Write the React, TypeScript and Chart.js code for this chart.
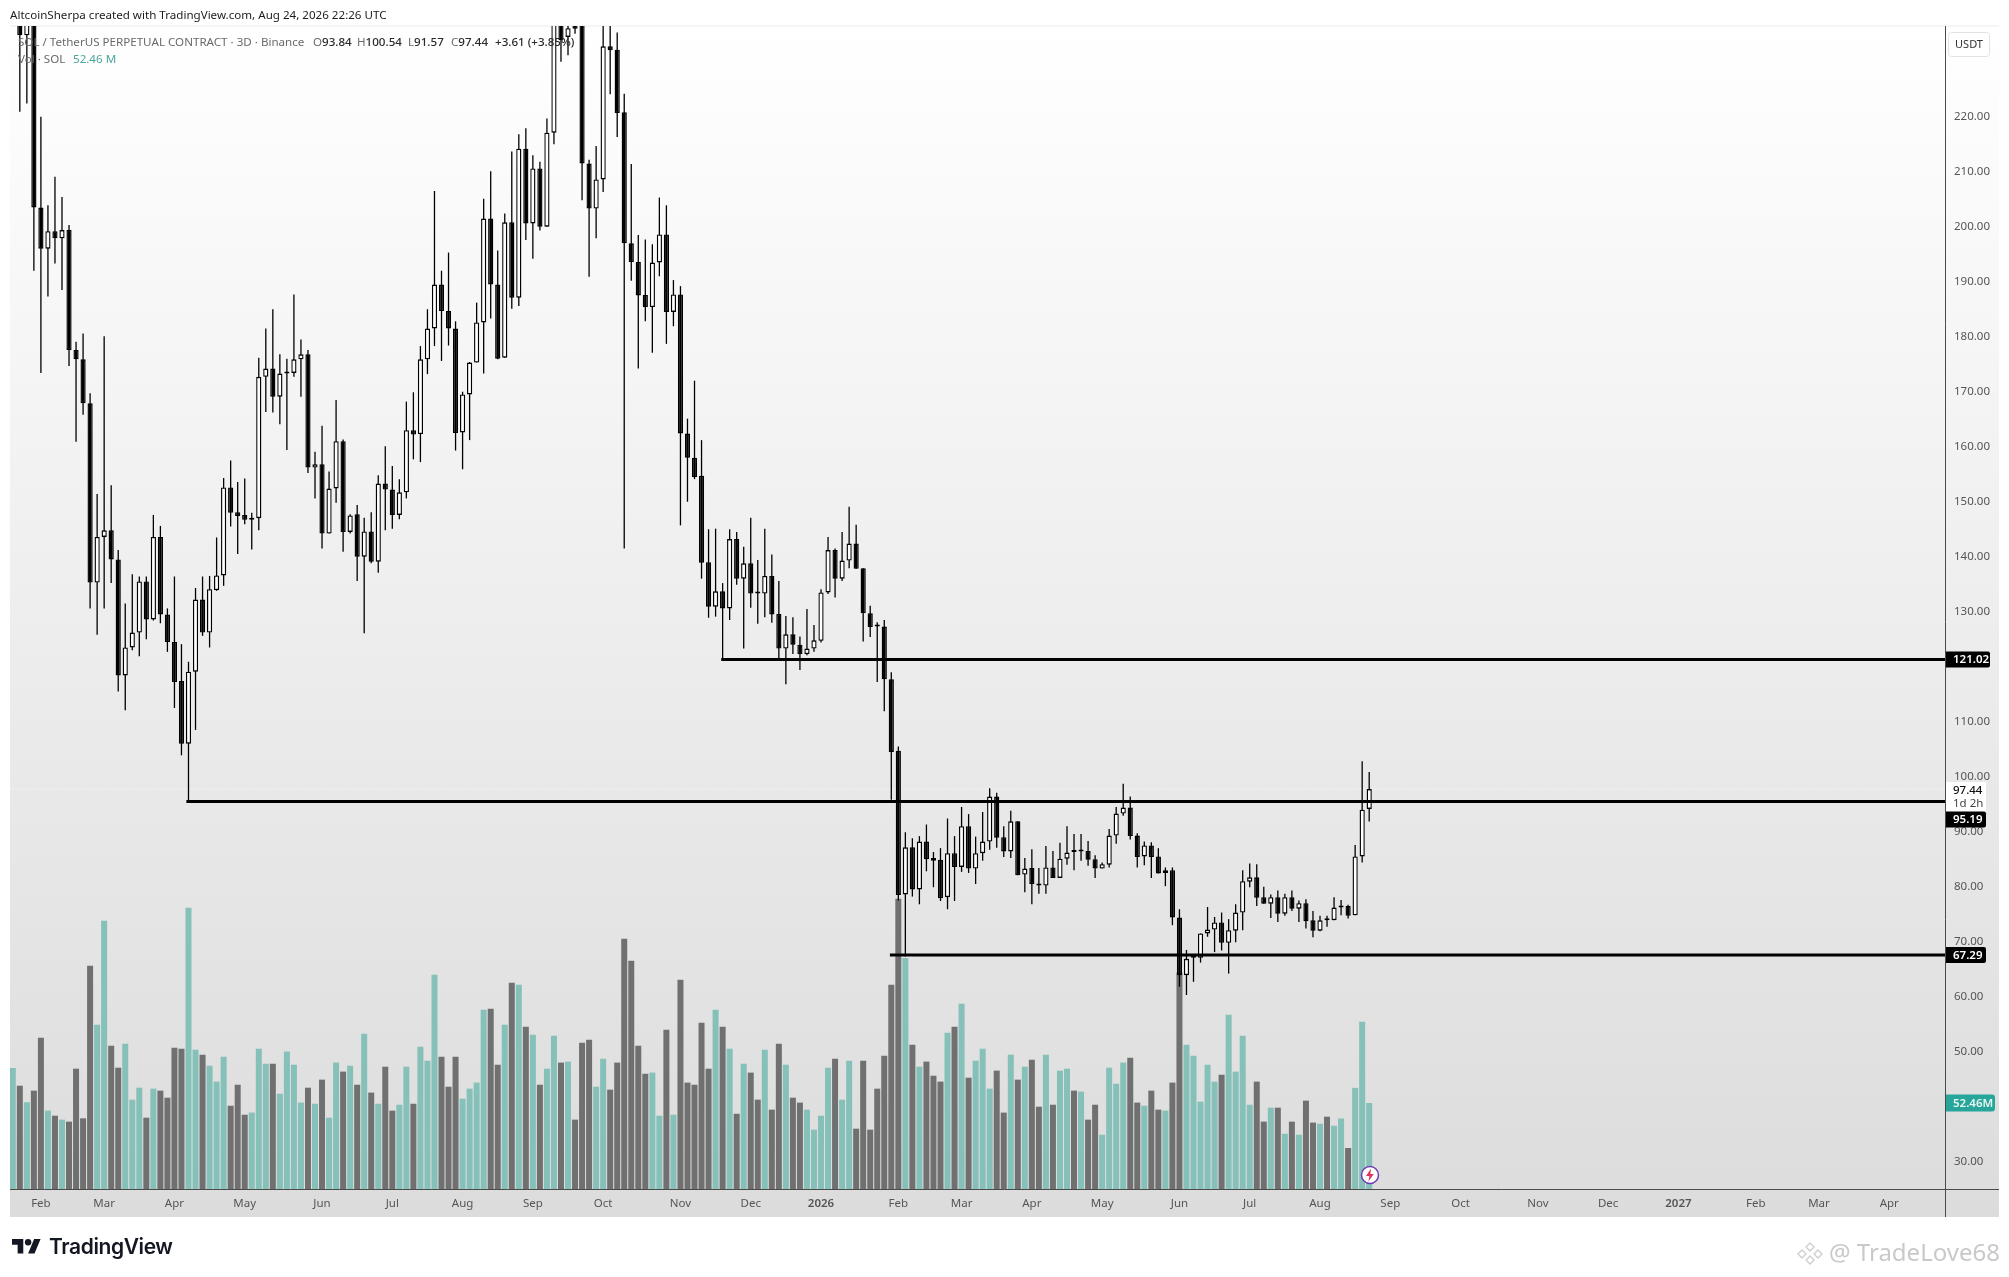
import React, { useEffect, useRef } from "react";
import { Chart, registerables } from "chart.js";

Chart.register(...registerables);

const opens = [
  240,245,234.5,246,203.2,195.7,198.9,197.6,199.1,177.3,
  175.6,167.6,135,143.3,144.5,139.2,118.1,123.2,125.9,135.2,
  128.3,143.3,129.2,124.2,117.1,105.7,118.8,131.9,125.9,133.6,
  136.3,152.3,147.8,147.3,146.4,146.7,172.4,173.9,168.8,173,
  173.1,175.6,176.5,155.9,156.5,143.9,152.1,160.7,144.2,147.4,
  139.7,144.3,138.8,153,151.9,147.3,151.4,162.7,162,175.6,
  181.2,189.2,184.4,181.2,162.3,169.2,175,182.3,201.2,189.2,
  175.9,200.5,186.8,213.9,200.3,210.3,199.7,216.8,240,234.2,
  245,240,211.2,203,208.3,232.5,231.9,220.5,196.7,193.3,
  187.3,185.1,193.2,198.3,184.2,187.4,162.1,157.7,154.4,138.7,
  130.6,133.4,130.3,142.9,135.7,138.5,133.1,133,136.2,129.3,
  123,125.6,123.7,122,123,124.4,133.2,140.9,135.7,139,
  142.1,137.6,129.4,127.1,127,117.4,104.4,78.3,86.85,79.2,
  87.9,84.9,84.6,77.8,85.8,83.3,90.7,83,85.8,87.9,
  96.1,88.7,86.1,91.6,81.9,83.1,80.3,79.9,83.2,81.3,
  84.8,86.1,86.1,86.2,84.7,83,83.7,89,93,94.1,
  89,85.2,87.2,85.2,82.2,82.7,74.1,63.6,66.8,66.8,
  71.2,71.9,73.2,69.5,71.7,75,80.6,81.4,77.8,76.6,
  77.8,74.8,77.8,75.7,76.7,73.6,71.7,73.7,73.6,75.9,
  76.2,74.5,85.2,93.84,
];
const closes = [
  252,234.5,244,203.2,195.7,198.9,197.6,199.1,177.3,175.6,
  167.6,135,143.3,144.5,139.2,118.1,123.2,125.9,135.2,128.3,
  143.3,129.2,124.2,116.9,105.7,118.8,131.9,125.9,133.8,136.3,
  152.3,147.7,147.1,146.4,146.8,172.4,173.9,168.8,173,173.1,
  175.6,176.5,155.9,156.5,143.9,152.1,160.7,144.2,147.2,139.7,
  144.3,138.8,153,151.9,147.3,151.4,162.7,161.9,175.6,181.2,
  189.2,184.4,181.2,162.2,169.2,175,182.3,201.2,189.2,175.7,
  200.5,186.8,213.9,200.3,210.3,199.7,216.8,236.5,233.6,235.8,
  235.7,211.2,203,208.3,232.5,231.8,220.4,196.7,193.3,187.2,
  185.1,193.2,198.3,184.2,187.4,162.1,157.7,154.2,138.6,130.6,
  133.4,130.3,142.9,135.7,138.5,133,133,136.2,129.2,123,
  125.6,123.7,122,123,124.5,133.2,140.9,135.7,139,142.1,
  137.5,129.4,126.9,127,117.4,104.2,78.2,86.85,79.2,87.9,
  84.7,84.4,77.6,85.8,83.3,90.7,83,85.8,87.9,96.1,
  88.6,86.1,91.6,81.8,83,80.2,79.9,83.2,81.3,84.8,
  85.9,86,86.2,84.6,83,83.8,89,93,94.1,88.9,
  85.1,87.2,85.1,82.1,82.7,74.1,63.6,66.6,67,71.2,
  71.9,73.2,69.5,71.8,75,80.7,81.4,77.7,76.6,77.8,
  74.8,77.8,75.7,76.7,73.4,71.7,73.6,73.6,75.9,76.2,
  74.4,85.2,93.7,97.44,
];
const highs = [
  256,250,250,250,219.7,203.6,208.8,205.1,200,178.8,
  180.3,169.4,151.1,179.8,152.7,140.9,131.2,136.5,136.1,136.1,
  147.3,145.3,130.3,136.1,123.8,120.6,134,136.1,136.2,143.2,
  154,157.2,153.3,153.9,147.7,175.9,181.2,184.7,176.5,175.7,
  187.4,179.2,177.3,158.8,163.5,155.2,168.2,161,147.4,149.1,
  146.8,147.8,154.5,159.8,156.2,153.8,167.9,169.6,178,184.7,
  206.2,191.7,195,182.5,169.7,175.1,185.9,204.8,209.8,195.4,
  202.1,213.4,216.5,217.6,212.7,211.5,219.4,250,250,250,
  250,250,211.9,214.4,250,250,235,223.9,211.1,198.2,
  197.4,196.5,205,203.6,190,188.9,164.8,171.7,160.9,144.7,
  144.8,134.9,144.7,144.2,141.5,146.8,139.1,144.8,140.1,135.3,
  128.9,128.7,125.2,130.2,127.3,133.8,143.3,141.2,144.2,148.8,
  145.5,137.6,130.8,127.8,128.2,118.7,105.2,89.6,88.5,88.9,
  91,86,86.7,92.1,88.9,94.2,92.9,88.8,93.3,97.6,
  96.8,90.7,93.5,91.6,84.9,86.5,83.1,87.1,86.2,87.7,
  90.7,89.3,89.3,88,85.4,84.1,90.2,94.2,98.4,96.1,
  89.4,87.9,87.8,86.7,83.2,83.2,75.6,68.2,67.3,71.2,
  76,74.2,75,73.8,76.5,82.7,83.9,83.8,79.7,78.3,
  79,78.4,79,77.2,77.4,75.3,74.4,74.4,77.8,77.3,
  76.4,87.3,102.5,100.54,
];
const lows = [
  238,220.6,222.1,191.7,173.1,187,193,188.2,174.4,160.6,
  165.5,130.3,125.5,130.3,134.9,115.2,111.8,122.7,121.6,124.7,
  128.1,127.6,122.4,112.2,103.6,95.2,108.2,125.3,123.2,133.5,
  134.4,145.2,140.2,145.6,141,144.5,166,165.9,163.8,159.1,
  172.4,168.8,154.9,150.3,141.2,143.9,149.5,140.6,143.9,135.3,
  125.8,138.5,136.8,144.5,144.8,146.5,150.3,157.4,156.9,172.9,
  178,175.3,178.1,159,155.6,160.9,175,173,183,175.6,
  175.9,184.8,185.3,197.3,193.9,199,199.7,214.7,229.7,230.9,
  234.8,204.5,190.6,197.6,206,223.8,216,141.2,189.9,173.9,
  182.5,176.8,190.7,178.4,181.6,145.4,149.7,153.8,135.7,128.6,
  128.8,120.8,128.2,134.6,123,130.4,127.5,128.7,127.7,120.8,
  116.5,122,119.1,121.8,122.4,124.1,132.9,132.3,135.3,137.6,
  137.5,124.3,125.1,116.9,111.6,95.5,77.2,67,77.9,76.5,
  82.5,79.6,77.1,75.6,77.1,82.4,82.2,80.2,84.4,86.4,
  86.8,85.1,84.9,81.8,78.7,76.5,78.4,78.4,81.3,81.3,
  83.7,82.7,84.4,83.5,81.3,83,83.2,87.5,92.6,88.3,
  83.2,83.6,81.3,82.1,79.8,72.7,61.5,60,62.4,65.9,
  70.6,67.8,68.1,63.9,69.6,71.8,79.6,76.2,76.6,74,
  73.3,74.4,75.3,73.3,72.1,70.5,71.6,72.4,73.6,74.5,
  73.9,74.5,84.1,91.57,
];
const volumes = [
  73.8,63,52.9,60,92.3,47.8,44.7,42.3,41.1,73.4,
  43.1,136.2,100.2,163.7,87.4,74,88.6,54.5,61.8,43.5,
  61.2,60,55.7,86.2,85.6,171.6,85,81.9,75.2,65.5,
  80.7,50.8,63.6,45.3,46.6,85.6,76.4,76.4,58.1,83.8,
  75.8,52.7,61.8,52,66.7,43.5,77.1,71.6,75.2,63.6,
  94.7,58.8,52,74.6,47.8,51.4,74.6,52,86.8,78.3,
  130.7,80.7,62.4,80.7,55.1,61.2,64.9,109.4,110,75.8,
  100.2,125.8,124.6,99,94.1,63.6,73.4,93.5,77.1,77.7,
  42.3,89.2,91.1,62.4,79.5,60.6,77.1,152.7,139.3,87.4,
  70.3,71,44.7,97.2,45.3,127.7,64.9,63.6,101.4,73.4,
  109.4,99,85.6,45.9,76.4,71,54.5,85,48.4,88.6,
  75.8,55.7,52.7,48.4,36.2,44.7,74,79.5,54.5,78.3,
  36.8,78.3,36.2,61.2,81.3,124.6,177,140.9,88,74.6,
  77.7,69.1,65.5,95.3,99,113,67.9,78.3,85.6,61.2,
  72.2,46.6,81.9,66.7,74.6,78.9,50.2,81.9,51.4,72.2,
  73.4,60,59.4,42.3,51.4,33.1,74,64.2,77.1,80.1,
  52.7,50.8,60,48.4,47.8,64.9,132,88,81.3,53.3,
  75.8,65.5,69.7,106.3,71.6,93.5,51.4,65.5,41.1,49.6,
  49.6,33.7,41.1,33.1,53.9,40.5,39.8,44.1,38.6,43,
  25,61.7,102,52.46,
];

const monthIndexes = [4,13,23,33,44,54,64,74,84,95,105,115,126,135,145,155,166,176,186,196,206,217,227,237,248,257,267];
const monthLabels = ["Feb","Mar","Apr","May","Jun","Jul","Aug","Sep","Oct","Nov","Dec","2026","Feb","Mar","Apr","May","Jun","Jul","Aug","Sep","Oct","Nov","Dec","2027","Feb","Mar","Apr"];
const priceTicks = [220,210,200,190,180,170,160,150,140,130,110,100,90,80,70,60,50,30];

const levelValues = [121.02, 95.19, 67.29];
const levelStarts = [100.8, 24.7, 124.8];
const lastClose = 97.44;
const lastVolume = 52.46;

// Axis windows
const X_MIN = -0.398;
const X_MAX = 274.93;
const PRICE_MIN = 24.73;
const PRICE_MAX = 236.2;
const VOL_MAX = 709.4;

const INK = "#000000";
const TEAL = "#85c0b9";
const GREY = "#707070";
const TAG_TEAL = "#26a69a";
const AXIS = "#4a4a4a";
const TICK = "#555555";
const UI_FONT = '"Noto Sans", sans-serif';

const decor = {
  id: "decor",
  beforeDraw(chart: any) {
    const { ctx, chartArea } = chart;
    const items = chart.scales.y.getLabelItems(chartArea);
    if (!items.__nudged) {
      items.forEach((it: any) => {
        it.textOffset += 2;
      });
      items.__nudged = true;
    }
    const g = ctx.createLinearGradient(0, 26, 0, 1217);
    g.addColorStop(0, "#ffffff");
    g.addColorStop(1, "#dcdcdc");
    ctx.save();
    ctx.fillStyle = g;
    ctx.fillRect(10, 26, 1989, 1191);
    ctx.fillStyle = "#ececec";
    ctx.fillRect(10, 25.5, 1989, 1);
    ctx.restore();
  },
  afterDraw(chart: any) {
    const { ctx, chartArea: a, scales } = chart;
    const y = scales.y;
    const yv = scales.yVol;
    ctx.save();
    ctx.strokeStyle = AXIS;
    ctx.lineWidth = 1;
    ctx.beginPath();
    ctx.moveTo(a.right + 0.5, 26);
    ctx.lineTo(a.right + 0.5, 1217);
    ctx.moveTo(10, a.bottom + 0.5);
    ctx.lineTo(1999, a.bottom + 0.5);
    ctx.stroke();

    const tag = (cy: number, w: number, h: number, bg: string, fg: string, text: string, radius = 2) => {
      ctx.fillStyle = bg;
      ctx.beginPath();
      ctx.roundRect(a.right + 1, cy - h / 2, w, h, [0, radius, radius, 0]);
      ctx.fill();
      ctx.fillStyle = fg;
      ctx.font = `600 11.5px ${UI_FONT}`;
      ctx.textAlign = "left";
      ctx.textBaseline = "middle";
      ctx.fillText(text, a.right + 8, cy + 0.5);
    };

    // current price box
    const cy = y.getPixelForValue(lastClose);
    ctx.fillStyle = "#ffffff";
    ctx.fillRect(a.right + 1, cy - 7, 40, 30);
    ctx.fillStyle = "#111111";
    ctx.font = `500 11.5px ${UI_FONT}`;
    ctx.textAlign = "left";
    ctx.textBaseline = "middle";
    ctx.fillText(lastClose.toFixed(2), a.right + 8, cy + 1.5);
    ctx.fillStyle = "#444444";
    ctx.font = `11.5px ${UI_FONT}`;
    ctx.fillText("1d 2h", a.right + 8, cy + 14.5);

    tag(y.getPixelForValue(levelValues[0]), 44, 16, "#000000", "#ffffff", levelValues[0].toFixed(2));
    tag(y.getPixelForValue(levelValues[1]) + 18, 40, 16, "#000000", "#ffffff", levelValues[1].toFixed(2));
    tag(y.getPixelForValue(levelValues[2]), 40, 16, "#000000", "#ffffff", levelValues[2].toFixed(2));
    tag(yv.getPixelForValue(lastVolume), 49, 17, TAG_TEAL, "#e8f5f3", lastVolume.toFixed(2) + "M", 3);

    // currency box
    ctx.fillStyle = "#ffffff";
    ctx.strokeStyle = "#e2e2e2";
    ctx.beginPath();
    ctx.roundRect(1948.5, 32.5, 41, 24, 3);
    ctx.fill();
    ctx.stroke();
    ctx.fillStyle = "#333333";
    ctx.font = `11px ${UI_FONT}`;
    ctx.textAlign = "center";
    ctx.fillText("USDT", 1969, 45);
    ctx.restore();
  },
};

const upAt = (i: number) => closes[i] >= opens[i];

export default function App() {
  const ref = useRef<HTMLCanvasElement | null>(null);

  useEffect(() => {
    document.body.style.margin = "0";
    document.body.style.background = "#ffffff";
    const xs = opens.map((_, i) => i);
    const barBase = {
      type: "bar" as const,
      grouped: false,
      barPercentage: 1,
      categoryPercentage: 1,
      borderSkipped: false,
      inflateAmount: 0,
    };
    const levelDatasets = levelValues.map((v, k) => ({
      type: "line" as const,
      data: [
        { x: levelStarts[k], y: v },
        { x: X_MAX, y: v },
      ],
      borderColor: INK,
      backgroundColor: INK,
      borderWidth: 3,
      pointRadius: 0,
      order: 0,
      yAxisID: "y",
    }));
    const chart = new Chart(ref.current as HTMLCanvasElement, {
      data: {
        datasets: [
          {
            ...barBase,
            data: xs.map((i) => ({ x: i, y: volumes[i] })),
            backgroundColor: xs.map((i) => (upAt(i) ? TEAL : GREY)),
            maxBarThickness: 6,
            order: 4,
            yAxisID: "yVol",
          },
          {
            ...barBase,
            data: xs.map((i) => ({ x: i, y: [lows[i], highs[i]] })),
            backgroundColor: INK,
            maxBarThickness: 1.3,
            order: 2,
            yAxisID: "y",
          },
          {
            ...barBase,
            data: xs.map((i) => ({ x: i, y: [opens[i], closes[i]] })),
            backgroundColor: xs.map((i) => (upAt(i) ? "#ffffff" : INK)),
            borderColor: INK,
            borderWidth: 1.4,
            minBarLength: 2,
            maxBarThickness: 5.2,
            order: 1,
            yAxisID: "y",
          },
          {
            type: "line" as const,
            data: [
              { x: X_MIN, y: lastClose },
              { x: X_MAX, y: lastClose },
            ],
            borderColor: "rgba(255,255,255,0.75)",
            borderWidth: 1,
            borderDash: [1, 2],
            pointRadius: 0,
            order: 3,
            yAxisID: "y",
          },
          ...levelDatasets,
        ],
      } as any,
      options: {
        responsive: false,
        animation: false,
        devicePixelRatio: 1,
        layout: { padding: { left: 10, top: 26, right: 10, bottom: 60 } },
        plugins: { legend: { display: false }, tooltip: { enabled: false } },
        events: [],
        scales: {
          x: {
            type: "linear",
            offset: false,
            min: X_MIN,
            max: X_MAX,
            grid: { display: false },
            border: { display: false },
            afterBuildTicks: (s: any) => {
              s.ticks = monthIndexes.map((value) => ({ value }));
            },
            afterFit: (s: any) => {
              s.height = 28;
            },
            ticks: {
              autoSkip: false,
              maxRotation: 0,
              padding: 0,
              color: TICK,
              font: (c: any) => ({
                family: UI_FONT,
                size: 11.5,
                weight: monthLabels[monthIndexes.indexOf(c.tick?.value)]?.startsWith("20") ? "600" : "400",
              }),
              callback: (v: any) => monthLabels[monthIndexes.indexOf(v)],
            },
          },
          y: {
            type: "linear",
            position: "right",
            min: PRICE_MIN,
            max: PRICE_MAX,
            grid: { display: false },
            border: { display: false },
            afterBuildTicks: (s: any) => {
              s.ticks = priceTicks.map((value) => ({ value }));
            },
            afterFit: (s: any) => {
              s.width = 54;
            },
            ticks: {
              autoSkip: false,
              padding: 1,
              align: "center",
              crossAlign: "near",
              color: TICK,
              font: { family: UI_FONT, size: 11.5 },
              callback: (v: any) => Number(v).toFixed(2),
            },
          },
          yVol: {
            type: "linear",
            display: false,
            position: "right",
            min: 0,
            max: VOL_MAX,
            grid: { display: false },
          },
        },
      } as any,
      plugins: [decor],
    });
    return () => chart.destroy();
  }, []);

  const label = { position: "absolute" as const, whiteSpace: "nowrap" as const, fontFamily: UI_FONT, lineHeight: "16px" };
  const dim = "#6a6a6a";
  const dark = "#2a2a2a";
  const legendSize = 11.6;
  return (
    <div style={{ position: "relative", width: 2009, height: 1277, overflow: "hidden", background: "#fff" }}>
      <canvas ref={ref} width={2009} height={1277} style={{ display: "block", position: "absolute", left: 0, top: 0 }} />
      <div style={{ ...label, left: 10, top: 7, fontSize: 11.6, color: "#1c1c1c" }}>
        AltcoinSherpa created with TradingView.com, Aug 24, 2026 22:26 UTC
      </div>
      <div style={{ ...label, left: 18, top: 34, fontSize: legendSize, color: dim }}>
        SOL / TetherUS PERPETUAL CONTRACT · 3D · Binance
      </div>
      <div style={{ ...label, left: 313, top: 34, fontSize: legendSize, color: dim }}>
        O<span style={{ color: dark, fontWeight: 500 }}>93.84</span>
      </div>
      <div style={{ ...label, left: 357, top: 34, fontSize: legendSize, color: dim }}>
        H<span style={{ color: dark, fontWeight: 500 }}>100.54</span>
      </div>
      <div style={{ ...label, left: 408, top: 34, fontSize: legendSize, color: dim }}>
        L<span style={{ color: dark, fontWeight: 500 }}>91.57</span>
      </div>
      <div style={{ ...label, left: 451, top: 34, fontSize: legendSize, color: dim }}>
        C<span style={{ color: dark, fontWeight: 500 }}>97.44</span>
      </div>
      <div style={{ ...label, left: 495, top: 34, fontSize: legendSize, color: dark, fontWeight: 500 }}>+3.61 (+3.85%)</div>
      <div style={{ ...label, left: 18, top: 51, fontSize: legendSize, color: dim }}>Vol · SOL</div>
      <div style={{ ...label, left: 73, top: 51, fontSize: legendSize, color: "#4aa79d" }}>52.46 M</div>

      <svg width="29" height="14.5" viewBox="0 4 36 18" style={{ position: "absolute", left: 12, top: 1239 }}>
        <path d="M14 22H7V11H0V4h14v18zM28 22h-8l7.5-18h8L28 22z" fill="#131722" />
        <circle cx="20" cy="8" r="4" fill="#131722" />
      </svg>
      <div style={{ ...label, left: 49, top: 1234, lineHeight: "26px", fontSize: 21, fontWeight: 600, fontFamily: "Inter, sans-serif", color: "#131722", letterSpacing: -0.4 }}>
        TradingView
      </div>

      <svg width="30" height="26" viewBox="0 0 30 26" style={{ position: "absolute", left: 1795, top: 1240 }}>
        <g fill="none" stroke="#cfcfcf" strokeWidth="1.4">
          <path d="M15 3l4 4-4 4-4-4z" />
          <path d="M7 10l4 4-4 4-4-4z" />
          <path d="M23 10l4 4-4 4-4-4z" />
          <path d="M15 16l4 4-4 4-4-4z" />
        </g>
      </svg>
      <div style={{ ...label, left: 1829, top: 1238, lineHeight: "28px", fontSize: 24, color: "#c9c9c9" }}>@ TradeLove68</div>

      <svg width="20" height="20" viewBox="0 0 20 20" style={{ position: "absolute", left: 1360, top: 1165 }}>
        <circle cx="10" cy="10" r="8.5" fill="#ffffff" stroke="#6d3fb5" strokeWidth="1.5" />
        <path d="M11 3.5L6 11h3.4L8.4 16.5l5.4-7.6h-3.4z" fill="#e0345c" />
      </svg>
    </div>
  );
}
